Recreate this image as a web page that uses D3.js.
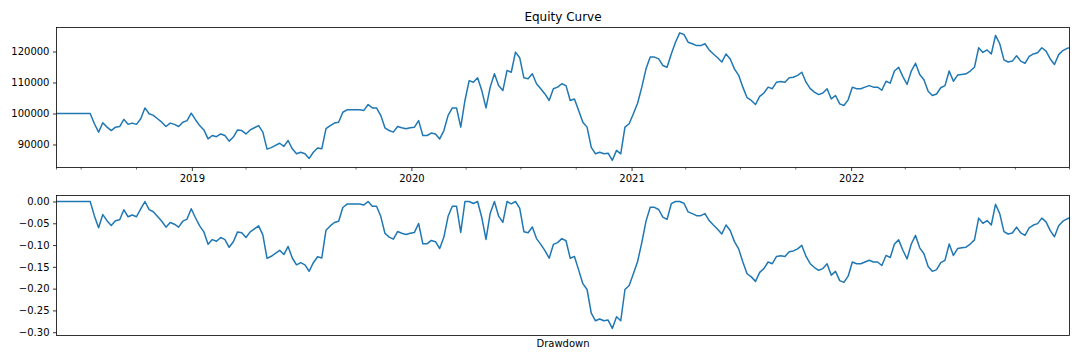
<!DOCTYPE html>
<html><head><meta charset="utf-8">
<script src="https://cdn.jsdelivr.net/npm/d3@7"></script>
<style>
body{margin:0;background:#fff}
text{font-family:"DejaVu Sans",sans-serif;fill:#000}
</style>
</head><body>
<svg id="chart" width="1080" height="360"></svg>
<script>
// ---- data (weekly samples of the equity curve) ----
const startDate = "2018-05-21";
const endDate = "2022-12-30";
const stepDays = 7;
const equity = [
100000,100000,100000,100000,100000,100000,100000,100000,100000,96700,
94000,97000,95600,94500,95600,95800,98100,96500,96900,96500,
98300,101800,99900,99400,98300,97200,95800,96900,96500,95800,
97200,97700,100100,98000,96100,94700,91800,92900,92500,93400,
92900,91100,92400,94700,94500,93400,94700,95400,96100,94000,
88500,89000,89700,90400,89400,91300,88600,87000,87500,87000,
85500,87500,88900,88600,95100,96100,96900,97200,100400,101200,
101200,101200,101200,101000,102900,101800,101800,99400,95400,94500,
94000,95800,95400,95100,95400,95600,97700,92900,92900,93700,
93400,91800,94500,99400,101800,101800,95600,104200,110600,110100,
111500,107400,101800,108500,112800,109000,107400,113900,113300,119800,
118000,111500,111200,112800,109600,108000,106300,104200,108000,108500,
109600,109000,104200,104700,101000,97200,95600,89100,87000,87500,
87000,87200,84900,88100,87000,95600,96700,99900,103300,108500,
114400,118200,118200,117600,115500,114900,119200,123000,126000,125500,
123000,122500,121900,121900,122500,120500,119200,118000,116600,119200,
117600,114400,112300,108500,105100,104200,102900,105500,106600,108500,
108000,110100,110300,110100,111500,111700,112300,113300,110100,108000,
106900,106100,106600,108000,104700,105800,103100,102600,104400,108500,
108000,108000,108500,109000,108500,108500,107500,110400,109800,113700,
114900,111900,109400,113700,116200,112600,110900,107200,105800,106300,
108300,109000,113700,110400,112400,112600,112800,113700,114900,121200,
119700,120500,119200,125200,122500,117300,116600,116900,118600,116900,
116200,118400,119200,119600,121200,120100,117600,115800,119000,120300,
121000,121400
];
const equityTicks = [90000, 100000, 110000, 120000];
const drawdownTicks = [0, -0.05, -0.10, -0.15, -0.20, -0.25, -0.30];
const yearTicks = ["2019-01-01", "2020-01-01", "2021-01-01", "2022-01-01"];
const quarterTicks = [
"2018-07-01","2018-10-01","2019-04-01","2019-07-01","2019-10-01",
"2020-04-01","2020-07-01","2020-10-01","2021-04-01","2021-07-01","2021-10-01",
"2022-04-01","2022-07-01","2022-10-01"
];
const equityLimits = [82580, 127740];
const drawdownLimits = [-0.3076, 0.0138];
const titleText = "Equity Curve";
const xLabelText = "Drawdown";

// ---- build series ----
const parse = d3.utcParse("%Y-%m-%d");
const t0 = parse(startDate), t1 = parse(endDate);
const series = equity.map((v, i) => ({date: d3.utcDay.offset(t0, i * stepDays), value: v}));
let runMax = -Infinity;
const ddSeries = series.map(d => { runMax = Math.max(runMax, d.value); return {date: d.date, value: d.value / runMax - 1}; });

// ---- layout ----
const L = 56.5, R = 1069.5;
const top1 = 27.5, bot1 = 167.5, top2 = 195.5, bot2 = 335.5;
const svg = d3.select("#chart");
const x = d3.scaleUtc().domain([t0, t1]).range([L, R]);
const y1 = d3.scaleLinear().domain(equityLimits).range([bot1, top1]);
const y2 = d3.scaleLinear().domain(drawdownLimits).range([bot2, top2]);
const color = "#1f77b4";

function clip(id, yt, yb) {
  svg.append("clipPath").attr("id", id).append("rect")
    .attr("x", L).attr("y", yt).attr("width", R - L).attr("height", yb - yt);
}
clip("c1", top1, bot1); clip("c2", top2, bot2);

const line1 = d3.line().x(d => x(d.date)).y(d => y1(d.value));
const line2 = d3.line().x(d => x(d.date)).y(d => y2(d.value));
svg.append("path").datum(series).attr("d", line1).attr("fill", "none")
  .attr("stroke", color).attr("stroke-width", 1.5).attr("stroke-linejoin", "round").attr("clip-path", "url(#c1)");
svg.append("path").datum(ddSeries).attr("d", line2).attr("fill", "none")
  .attr("stroke", color).attr("stroke-width", 1.5).attr("stroke-linejoin", "round").attr("clip-path", "url(#c2)");

// frames
[[top1, bot1], [top2, bot2]].forEach(([a, b]) => {
  svg.append("rect").attr("x", L).attr("y", a).attr("width", R - L).attr("height", b - a)
    .attr("fill", "none").attr("stroke", "#000").attr("stroke-width", 0.8);
});

// y axes
const fmtEq = d3.format("d");
const g1 = svg.append("g").attr("transform", `translate(${L},0)`)
  .call(d3.axisLeft(y1).tickValues(equityTicks).tickFormat(fmtEq).tickSize(3.5).tickPadding(3.5));
const fmtDd = v => { const s = Math.abs(v).toFixed(2); return v < -1e-9 ? "\u2212" + s : s; };
const g2 = svg.append("g").attr("transform", `translate(${L},0)`)
  .call(d3.axisLeft(y2).tickValues(drawdownTicks).tickFormat(fmtDd).tickSize(3.5).tickPadding(3.5));

// x axis on top panel
const gx = svg.append("g").attr("transform", `translate(0,${bot1})`)
  .call(d3.axisBottom(x).tickValues(yearTicks.map(parse)).tickFormat(d3.utcFormat("%Y")).tickSize(3.5).tickPadding(3.5));
const minorDates = [t0].concat(quarterTicks.map(parse), [t1]);
svg.append("g").selectAll("line").data(minorDates).join("line")
  .attr("x1", d => x(d)).attr("x2", d => x(d))
  .attr("y1", bot1).attr("y2", bot1 + 2)
  .attr("stroke", "#000").attr("stroke-width", 0.6);

[g1, g2, gx].forEach(g => {
  g.select(".domain").remove();
  g.selectAll(".tick line").attr("stroke", "#000").attr("stroke-width", 0.8);
  g.selectAll(".tick text").attr("font-size", 10).attr("font-family", "DejaVu Sans").attr("fill", "#000");
});

svg.append("text").attr("x", (L + R) / 2).attr("y", 20.5).attr("text-anchor", "middle")
  .attr("font-size", 12).text(titleText);
svg.append("text").attr("x", (L + R) / 2).attr("y", 347).attr("text-anchor", "middle")
  .attr("font-size", 10).text(xLabelText);
</script>
</body></html>
